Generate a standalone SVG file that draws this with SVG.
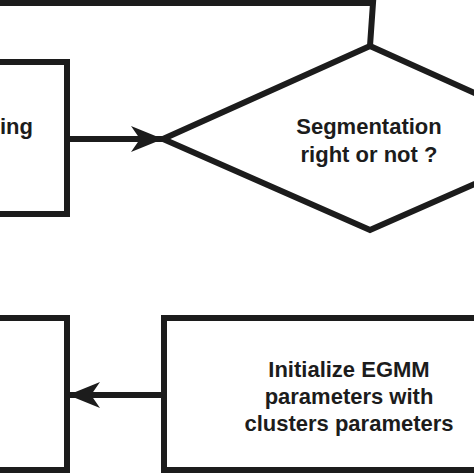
<svg xmlns="http://www.w3.org/2000/svg" width="474" height="474" viewBox="0 0 474 474">
<style>
.shape{fill:#fff;stroke:#1c1c1c;stroke-width:6;stroke-linejoin:miter}
.line{fill:none;stroke:#1c1c1c;stroke-width:6}
.lbl{font-family:"Liberation Sans",Arial,sans-serif;font-weight:bold;font-size:22px;fill:#1c1c1c;text-anchor:middle}
</style>
<defs>
<marker id="ah" viewBox="0 0 32 26" refX="32" refY="13" markerWidth="32" markerHeight="26" markerUnits="userSpaceOnUse" orient="auto">
<path d="M0,0 L32,13 L0,26 L9,13 Z" fill="#1c1c1c"/>
</marker>
</defs>
<rect width="474" height="474" fill="#fff"/>
<g id="node-left-top">
<rect class="shape" x="-20" y="62" width="87" height="152"/>
<text class="lbl" x="0" y="134" style="text-anchor:start">ing</text>
</g>
<g id="node-decision">
<polygon class="shape" points="370,46 577,139 370,230 163,139"/>
<text class="lbl" x="369" y="134">Segmentation</text>
<text class="lbl" x="369" y="162">right or not ?</text>
</g>
<g id="node-left-bottom">
<rect class="shape" x="-20" y="318" width="87" height="152"/>
</g>
<g id="node-init">
<rect class="shape" x="164" y="318" width="330" height="152"/>
<text class="lbl" x="349" y="377">Initialize EGMM</text>
<text class="lbl" x="349" y="404">parameters with</text>
<text class="lbl" x="349" y="431">clusters parameters</text>
</g>
<g id="connectors">
<path class="line" d="M0,3 L373,3 L370,46" stroke-width="7"/>
<line class="line" x1="67" y1="139" x2="163" y2="139" marker-end="url(#ah)"/>
<line class="line" x1="164" y1="395" x2="68" y2="395" marker-end="url(#ah)"/>
</g>
</svg>
